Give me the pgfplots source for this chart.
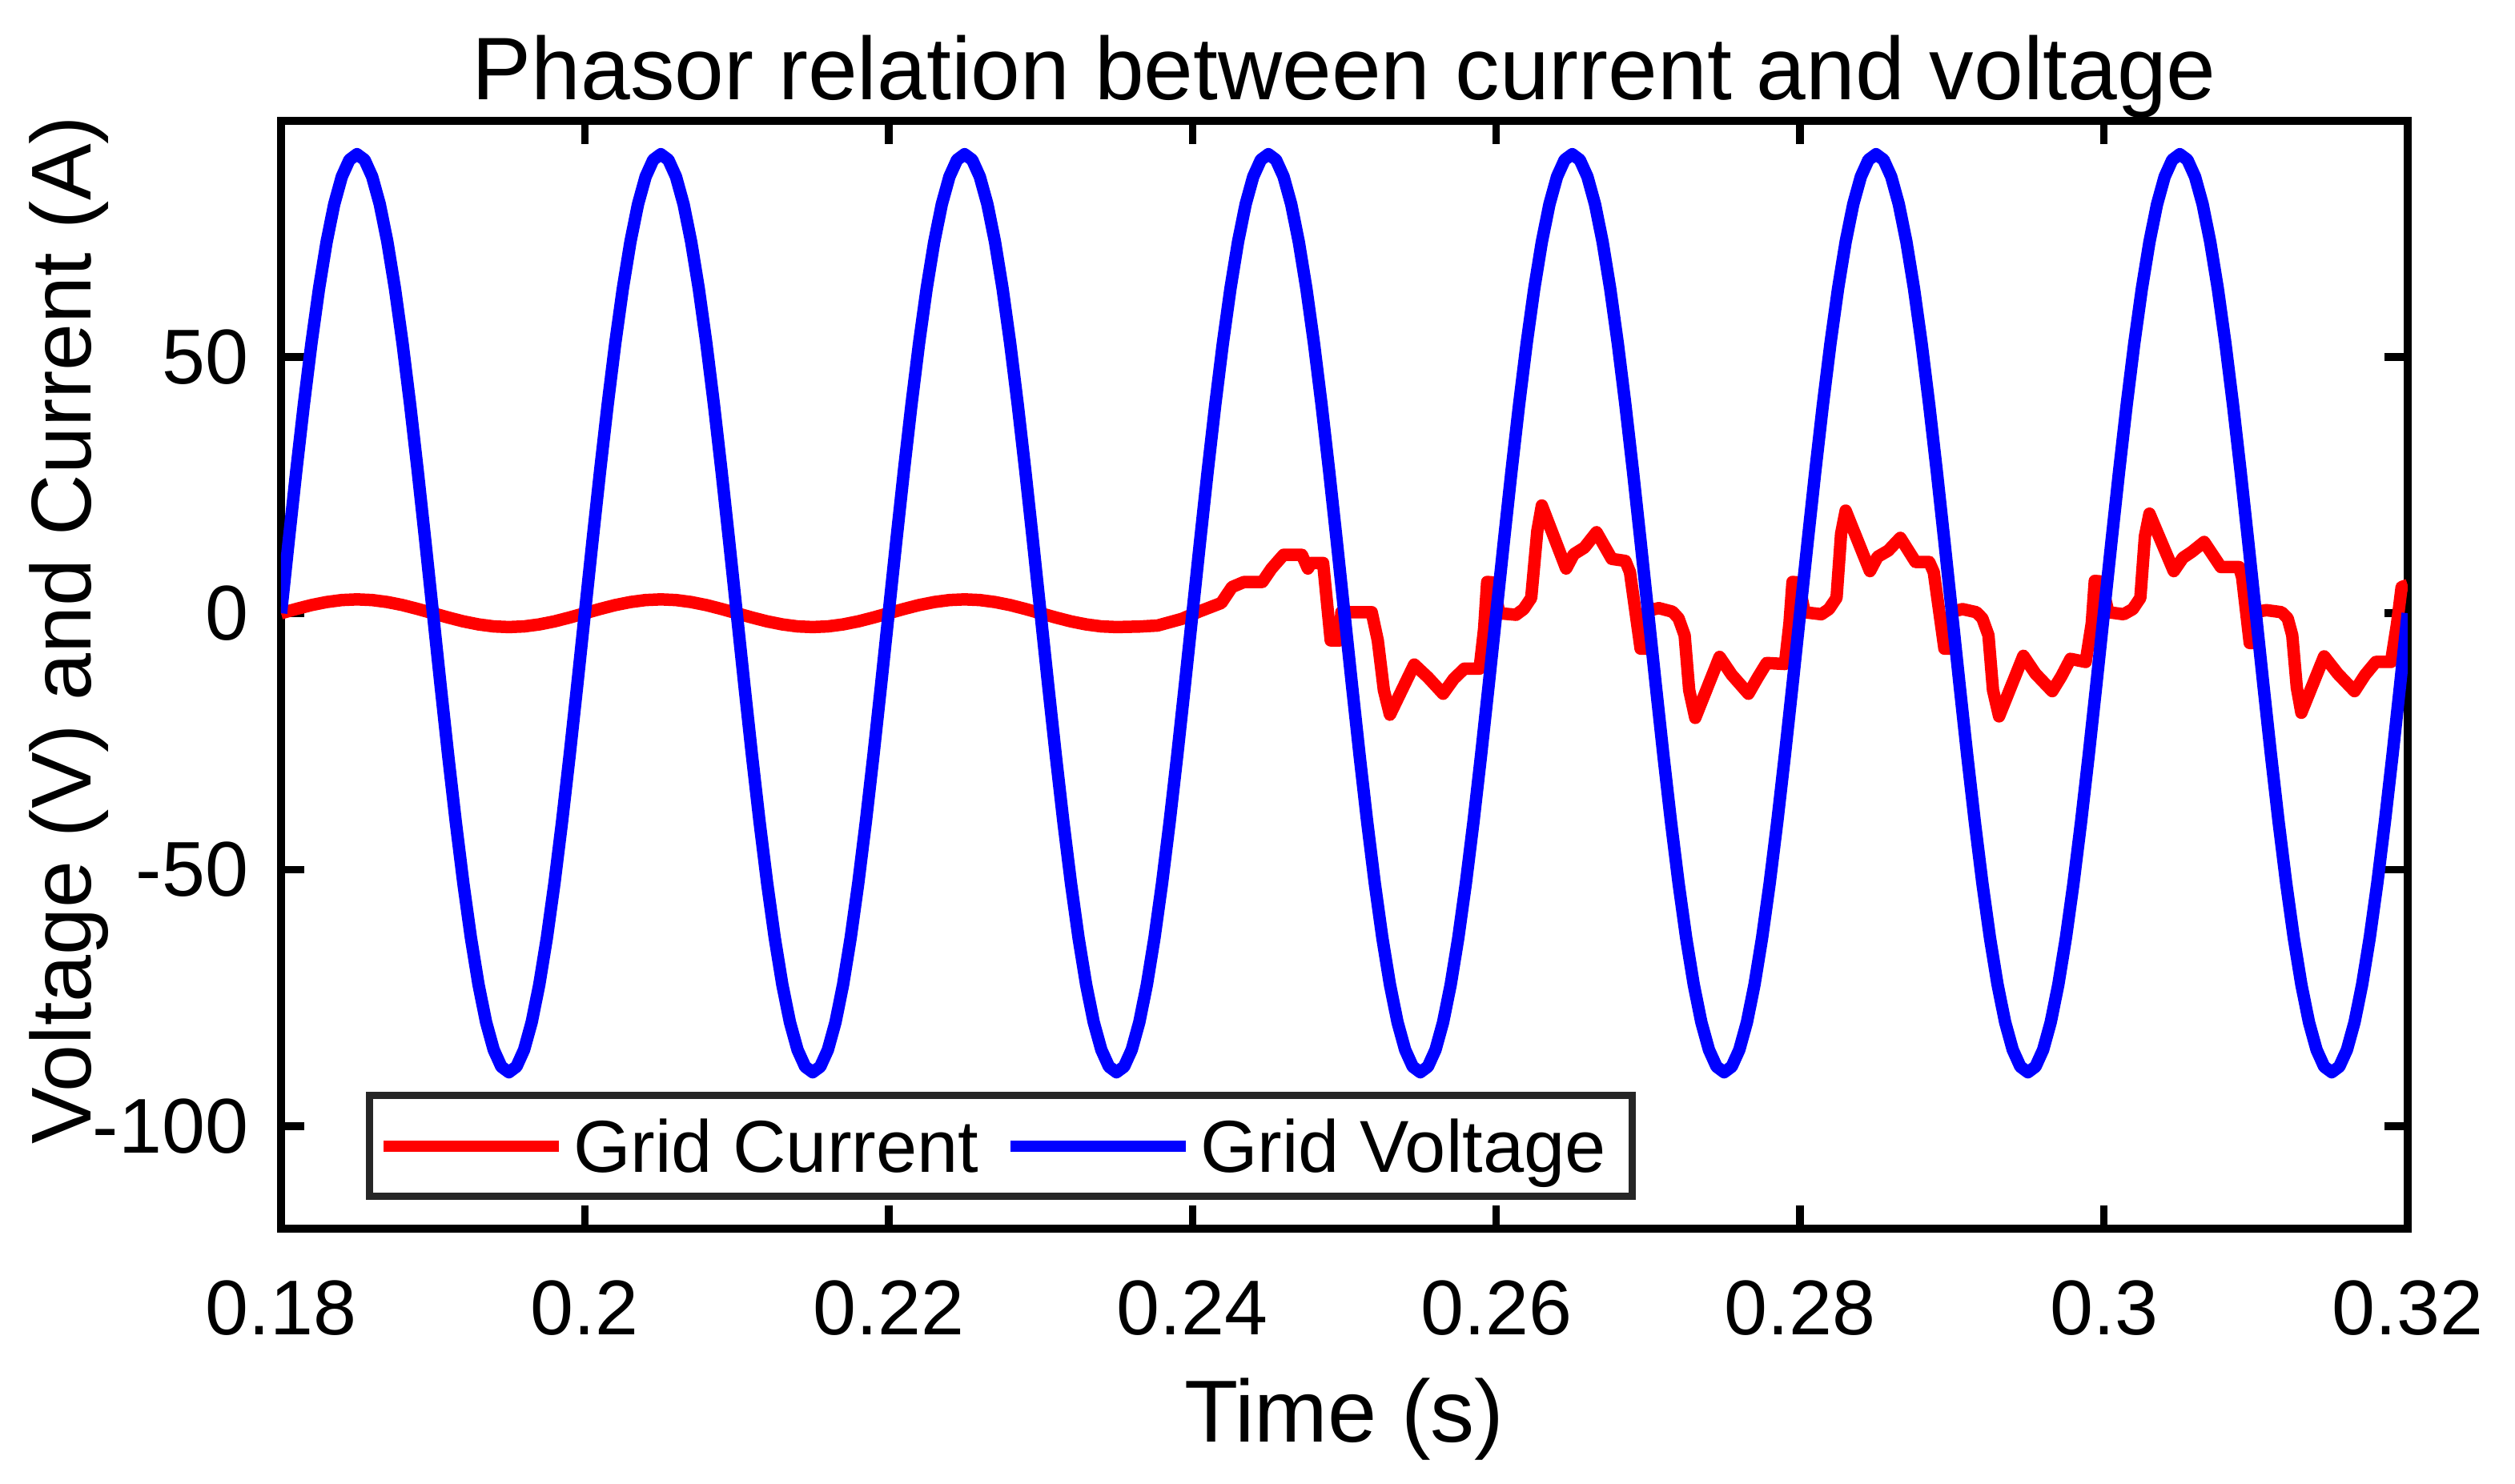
\documentclass[border=0pt]{standalone}
\usepackage{fontspec}
\setmainfont{Liberation Sans}
\usepackage{pgfplots}
\pgfplotsset{compat=1.18}
\definecolor{mblue}{RGB}{0,0,255}
\definecolor{mred}{RGB}{255,0,0}
\definecolor{legframe}{RGB}{38,38,38}
\begin{document}
\begin{tikzpicture}
\begin{axis}[
  scale only axis, width=265.6pt, height=138.4pt,
  xmin=0.18, xmax=0.32, ymin=-120, ymax=96,
  xtick={0.18,0.2,0.22,0.24,0.26,0.28,0.3,0.32},
  xticklabels={0.18,0.2,0.22,0.24,0.26,0.28,0.3,0.32},
  ytick={-100,-50,0,50},
  yticklabels={-100,-50,0,50},
  tick align=inside, major tick length=2.9pt,
  tick style={black, line width=0.95pt},
  axis line style={black, line width=0.95pt},
  ticklabel style={font=\fontsize{9.7}{11}\selectfont, inner sep=0pt},
  xticklabel style={anchor=base, yshift=-13.2pt},
  yticklabel style={anchor=east, xshift=-3.9pt},
  title={Phasor relation between current and voltage},
  every axis title/.style={at={(axis description cs:0.5,1)}, anchor=base, yshift=2.7pt, inner sep=0pt, font=\fontsize{11.1}{13}\selectfont},
  xlabel={Time (s)},
  xlabel style={at={(axis description cs:0.5,0)}, anchor=base, yshift=-26.6pt, inner sep=0pt, font=\fontsize{11}{13}\selectfont},
  ylabel={Voltage (V) and Current (A)},
  ylabel style={at={(axis description cs:-0.0896,0.5405)}, anchor=base, inner sep=0pt, font=\fontsize{10.6}{12}\selectfont},
  legend columns=2,
  legend cell align=left,
  legend style={at={(axis description cs:0.0398,0.026)}, anchor=south west,
    draw=legframe, line width=0.9pt, fill=white, inner xsep=1.1pt, inner ysep=1pt,
    font=\fontsize{9.2}{10}\selectfont,
    nodes={inner sep=0pt, text height=8.6pt, text depth=2pt},
    /tikz/every odd column/.append style={column sep=1.1pt},
    /tikz/every even column/.append style={column sep=3.3pt}},
  legend image code/.code={\draw[#1, line width=1.4pt] (0pt,0pt) -- (21.9pt,0pt);},
]
\addplot[mred, line width=1.55pt, line join=round] coordinates {
(0.180,0) (0.181,0.83) (0.182,1.59) (0.183,2.18) (0.184,2.57) (0.185,2.70) (0.186,2.57) (0.187,2.18) (0.188,1.59) (0.189,0.83)
(0.190,0) (0.191,-0.83) (0.192,-1.59) (0.193,-2.18) (0.194,-2.57) (0.195,-2.70) (0.196,-2.57) (0.197,-2.18) (0.198,-1.59) (0.199,-0.83)
(0.200,0) (0.201,0.83) (0.202,1.59) (0.203,2.18) (0.204,2.57) (0.205,2.70) (0.206,2.57) (0.207,2.18) (0.208,1.59) (0.209,0.83)
(0.210,0) (0.211,-0.83) (0.212,-1.59) (0.213,-2.18) (0.214,-2.57) (0.215,-2.70) (0.216,-2.57) (0.217,-2.18) (0.218,-1.59) (0.219,-0.83)
(0.220,0) (0.221,0.83) (0.222,1.59) (0.223,2.18) (0.224,2.57) (0.225,2.70) (0.226,2.57) (0.227,2.18) (0.228,1.59) (0.229,0.83)
(0.230,0) (0.231,-0.83) (0.232,-1.59) (0.233,-2.18) (0.234,-2.57) (0.235,-2.70)
(0.2365,-2.6) (0.2377,-2.4) (0.2393,-1.1) (0.2405,0.4) (0.2419,2.0) (0.2426,5.1) (0.2434,6.1) (0.2446,6.1) (0.2452,8.7)
(0.2460,11.4) (0.2472,11.4) (0.2476,8.7) (0.2478,9.8) (0.2486,9.8) (0.2491,-5.3) (0.2497,-5.3) (0.2498,0.2) (0.2518,0.2)
(0.2522,-5.3) (0.2526,-15.0) (0.2530,-19.8) (0.2546,-10.0) (0.2555,-12.5) (0.2565,-15.7) (0.2572,-12.8) (0.2579,-10.8) (0.2589,-10.8)
(0.2592,-3.0) (0.2594,6.1) (0.2598,6.0) (0.2602,0.0) (0.2613,-0.3) (0.2618,0.8) (0.2623,3.0) (0.2627,16.0) (0.2630,21.0)
(0.2646,8.7) (0.2651,11.5) (0.2658,12.8) (0.2666,15.8) (0.2676,10.6) (0.2685,10.2) (0.2688,8.0) (0.2695,-6.9) (0.2699,-6.9)
(0.2700,0.5) (0.2707,1.0) (0.2716,0.3) (0.2720,-1.0) (0.2724,-4.3) (0.2727,-15.0) (0.2731,-20.4) (0.2747,-8.5) (0.2755,-12.0)
(0.2766,-15.7) (0.2772,-12.6) (0.2778,-9.7) (0.2790,-9.9) (0.2793,-2.0)
(0.2795,6.1) (0.2799,6.0) (0.2803,0.2) (0.2814,-0.2) (0.2819,0.8) (0.2824,3.0) (0.2827,15.5) (0.2830,20.0) (0.2846,8.2)
(0.2851,11.0) (0.2858,12.2) (0.2866,14.7) (0.2876,10.0) (0.2885,10.0) (0.2888,8.0) (0.2895,-6.9) (0.2899,-6.9) (0.2900,0.3)
(0.2907,0.8) (0.2916,0.2) (0.2920,-1.0) (0.2924,-4.3) (0.2927,-15.0) (0.2931,-20.1) (0.2947,-8.3) (0.2955,-11.8) (0.2966,-15.2)
(0.2972,-12.3) (0.2978,-8.9) (0.2988,-9.5) (0.2992,-2.0)
(0.2994,6.3) (0.2998,6.2) (0.3003,0.2) (0.3013,-0.2) (0.3019,0.8) (0.3024,3.0) (0.3027,15.0) (0.3030,19.4) (0.3046,8.2)
(0.3052,10.8) (0.3058,12.0) (0.3066,13.9) (0.3077,9.0) (0.3089,9.0) (0.3091,7.0) (0.3096,-5.8) (0.3098,-5.8) (0.3099,0.2)
(0.3107,0.6) (0.3117,0.2) (0.3121,-1.0) (0.3124,-4.3) (0.3127,-14.5) (0.3130,-19.4) (0.3145,-8.4) (0.3154,-11.8) (0.3165,-15.2)
(0.3172,-12.0) (0.3179,-9.5) (0.3189,-9.5) (0.3193,-2.0) (0.3196,5.1) (0.3200,5.5)
};
\addlegendentry{Grid Current}
\addplot[mblue, line width=1.55pt, line join=round] coordinates {
(0.1800,0) (0.1805,14.00) (0.1810,27.66) (0.1815,40.63) (0.1820,52.61) (0.1825,63.29) (0.1830,72.41) (0.1835,79.75) (0.1840,85.12) (0.1845,88.40)
(0.1850,89.5) (0.1855,88.40) (0.1860,85.12) (0.1865,79.75) (0.1870,72.41) (0.1875,63.29) (0.1880,52.61) (0.1885,40.63) (0.1890,27.66) (0.1895,14.00)
(0.1900,0) (0.1905,-14.00) (0.1910,-27.66) (0.1915,-40.63) (0.1920,-52.61) (0.1925,-63.29) (0.1930,-72.41) (0.1935,-79.75) (0.1940,-85.12) (0.1945,-88.40)
(0.1950,-89.5) (0.1955,-88.40) (0.1960,-85.12) (0.1965,-79.75) (0.1970,-72.41) (0.1975,-63.29) (0.1980,-52.61) (0.1985,-40.63) (0.1990,-27.66) (0.1995,-14.00)
(0.2000,0) (0.2005,14.00) (0.2010,27.66) (0.2015,40.63) (0.2020,52.61) (0.2025,63.29) (0.2030,72.41) (0.2035,79.75) (0.2040,85.12) (0.2045,88.40)
(0.2050,89.5) (0.2055,88.40) (0.2060,85.12) (0.2065,79.75) (0.2070,72.41) (0.2075,63.29) (0.2080,52.61) (0.2085,40.63) (0.2090,27.66) (0.2095,14.00)
(0.2100,0) (0.2105,-14.00) (0.2110,-27.66) (0.2115,-40.63) (0.2120,-52.61) (0.2125,-63.29) (0.2130,-72.41) (0.2135,-79.75) (0.2140,-85.12) (0.2145,-88.40)
(0.2150,-89.5) (0.2155,-88.40) (0.2160,-85.12) (0.2165,-79.75) (0.2170,-72.41) (0.2175,-63.29) (0.2180,-52.61) (0.2185,-40.63) (0.2190,-27.66) (0.2195,-14.00)
(0.2200,0) (0.2205,14.00) (0.2210,27.66) (0.2215,40.63) (0.2220,52.61) (0.2225,63.29) (0.2230,72.41) (0.2235,79.75) (0.2240,85.12) (0.2245,88.40)
(0.2250,89.5) (0.2255,88.40) (0.2260,85.12) (0.2265,79.75) (0.2270,72.41) (0.2275,63.29) (0.2280,52.61) (0.2285,40.63) (0.2290,27.66) (0.2295,14.00)
(0.2300,0) (0.2305,-14.00) (0.2310,-27.66) (0.2315,-40.63) (0.2320,-52.61) (0.2325,-63.29) (0.2330,-72.41) (0.2335,-79.75) (0.2340,-85.12) (0.2345,-88.40)
(0.2350,-89.5) (0.2355,-88.40) (0.2360,-85.12) (0.2365,-79.75) (0.2370,-72.41) (0.2375,-63.29) (0.2380,-52.61) (0.2385,-40.63) (0.2390,-27.66) (0.2395,-14.00)
(0.2400,0) (0.2405,14.00) (0.2410,27.66) (0.2415,40.63) (0.2420,52.61) (0.2425,63.29) (0.2430,72.41) (0.2435,79.75) (0.2440,85.12) (0.2445,88.40)
(0.2450,89.5) (0.2455,88.40) (0.2460,85.12) (0.2465,79.75) (0.2470,72.41) (0.2475,63.29) (0.2480,52.61) (0.2485,40.63) (0.2490,27.66) (0.2495,14.00)
(0.2500,0) (0.2505,-14.00) (0.2510,-27.66) (0.2515,-40.63) (0.2520,-52.61) (0.2525,-63.29) (0.2530,-72.41) (0.2535,-79.75) (0.2540,-85.12) (0.2545,-88.40)
(0.2550,-89.5) (0.2555,-88.40) (0.2560,-85.12) (0.2565,-79.75) (0.2570,-72.41) (0.2575,-63.29) (0.2580,-52.61) (0.2585,-40.63) (0.2590,-27.66) (0.2595,-14.00)
(0.2600,0) (0.2605,14.00) (0.2610,27.66) (0.2615,40.63) (0.2620,52.61) (0.2625,63.29) (0.2630,72.41) (0.2635,79.75) (0.2640,85.12) (0.2645,88.40)
(0.2650,89.5) (0.2655,88.40) (0.2660,85.12) (0.2665,79.75) (0.2670,72.41) (0.2675,63.29) (0.2680,52.61) (0.2685,40.63) (0.2690,27.66) (0.2695,14.00)
(0.2700,0) (0.2705,-14.00) (0.2710,-27.66) (0.2715,-40.63) (0.2720,-52.61) (0.2725,-63.29) (0.2730,-72.41) (0.2735,-79.75) (0.2740,-85.12) (0.2745,-88.40)
(0.2750,-89.5) (0.2755,-88.40) (0.2760,-85.12) (0.2765,-79.75) (0.2770,-72.41) (0.2775,-63.29) (0.2780,-52.61) (0.2785,-40.63) (0.2790,-27.66) (0.2795,-14.00)
(0.2800,0) (0.2805,14.00) (0.2810,27.66) (0.2815,40.63) (0.2820,52.61) (0.2825,63.29) (0.2830,72.41) (0.2835,79.75) (0.2840,85.12) (0.2845,88.40)
(0.2850,89.5) (0.2855,88.40) (0.2860,85.12) (0.2865,79.75) (0.2870,72.41) (0.2875,63.29) (0.2880,52.61) (0.2885,40.63) (0.2890,27.66) (0.2895,14.00)
(0.2900,0) (0.2905,-14.00) (0.2910,-27.66) (0.2915,-40.63) (0.2920,-52.61) (0.2925,-63.29) (0.2930,-72.41) (0.2935,-79.75) (0.2940,-85.12) (0.2945,-88.40)
(0.2950,-89.5) (0.2955,-88.40) (0.2960,-85.12) (0.2965,-79.75) (0.2970,-72.41) (0.2975,-63.29) (0.2980,-52.61) (0.2985,-40.63) (0.2990,-27.66) (0.2995,-14.00)
(0.3000,0) (0.3005,14.00) (0.3010,27.66) (0.3015,40.63) (0.3020,52.61) (0.3025,63.29) (0.3030,72.41) (0.3035,79.75) (0.3040,85.12) (0.3045,88.40)
(0.3050,89.5) (0.3055,88.40) (0.3060,85.12) (0.3065,79.75) (0.3070,72.41) (0.3075,63.29) (0.3080,52.61) (0.3085,40.63) (0.3090,27.66) (0.3095,14.00)
(0.3100,0) (0.3105,-14.00) (0.3110,-27.66) (0.3115,-40.63) (0.3120,-52.61) (0.3125,-63.29) (0.3130,-72.41) (0.3135,-79.75) (0.3140,-85.12) (0.3145,-88.40)
(0.3150,-89.5) (0.3155,-88.40) (0.3160,-85.12) (0.3165,-79.75) (0.3170,-72.41) (0.3175,-63.29) (0.3180,-52.61) (0.3185,-40.63) (0.3190,-27.66) (0.3195,-14.00)
(0.3200,0)
};
\addlegendentry{Grid Voltage\rule{2.2pt}{0pt}}
\end{axis}
\pgfresetboundingbox
\useasboundingbox (-35.1pt,-31.8pt) rectangle (279.0pt,153.5pt);
\end{tikzpicture}
\end{document}
